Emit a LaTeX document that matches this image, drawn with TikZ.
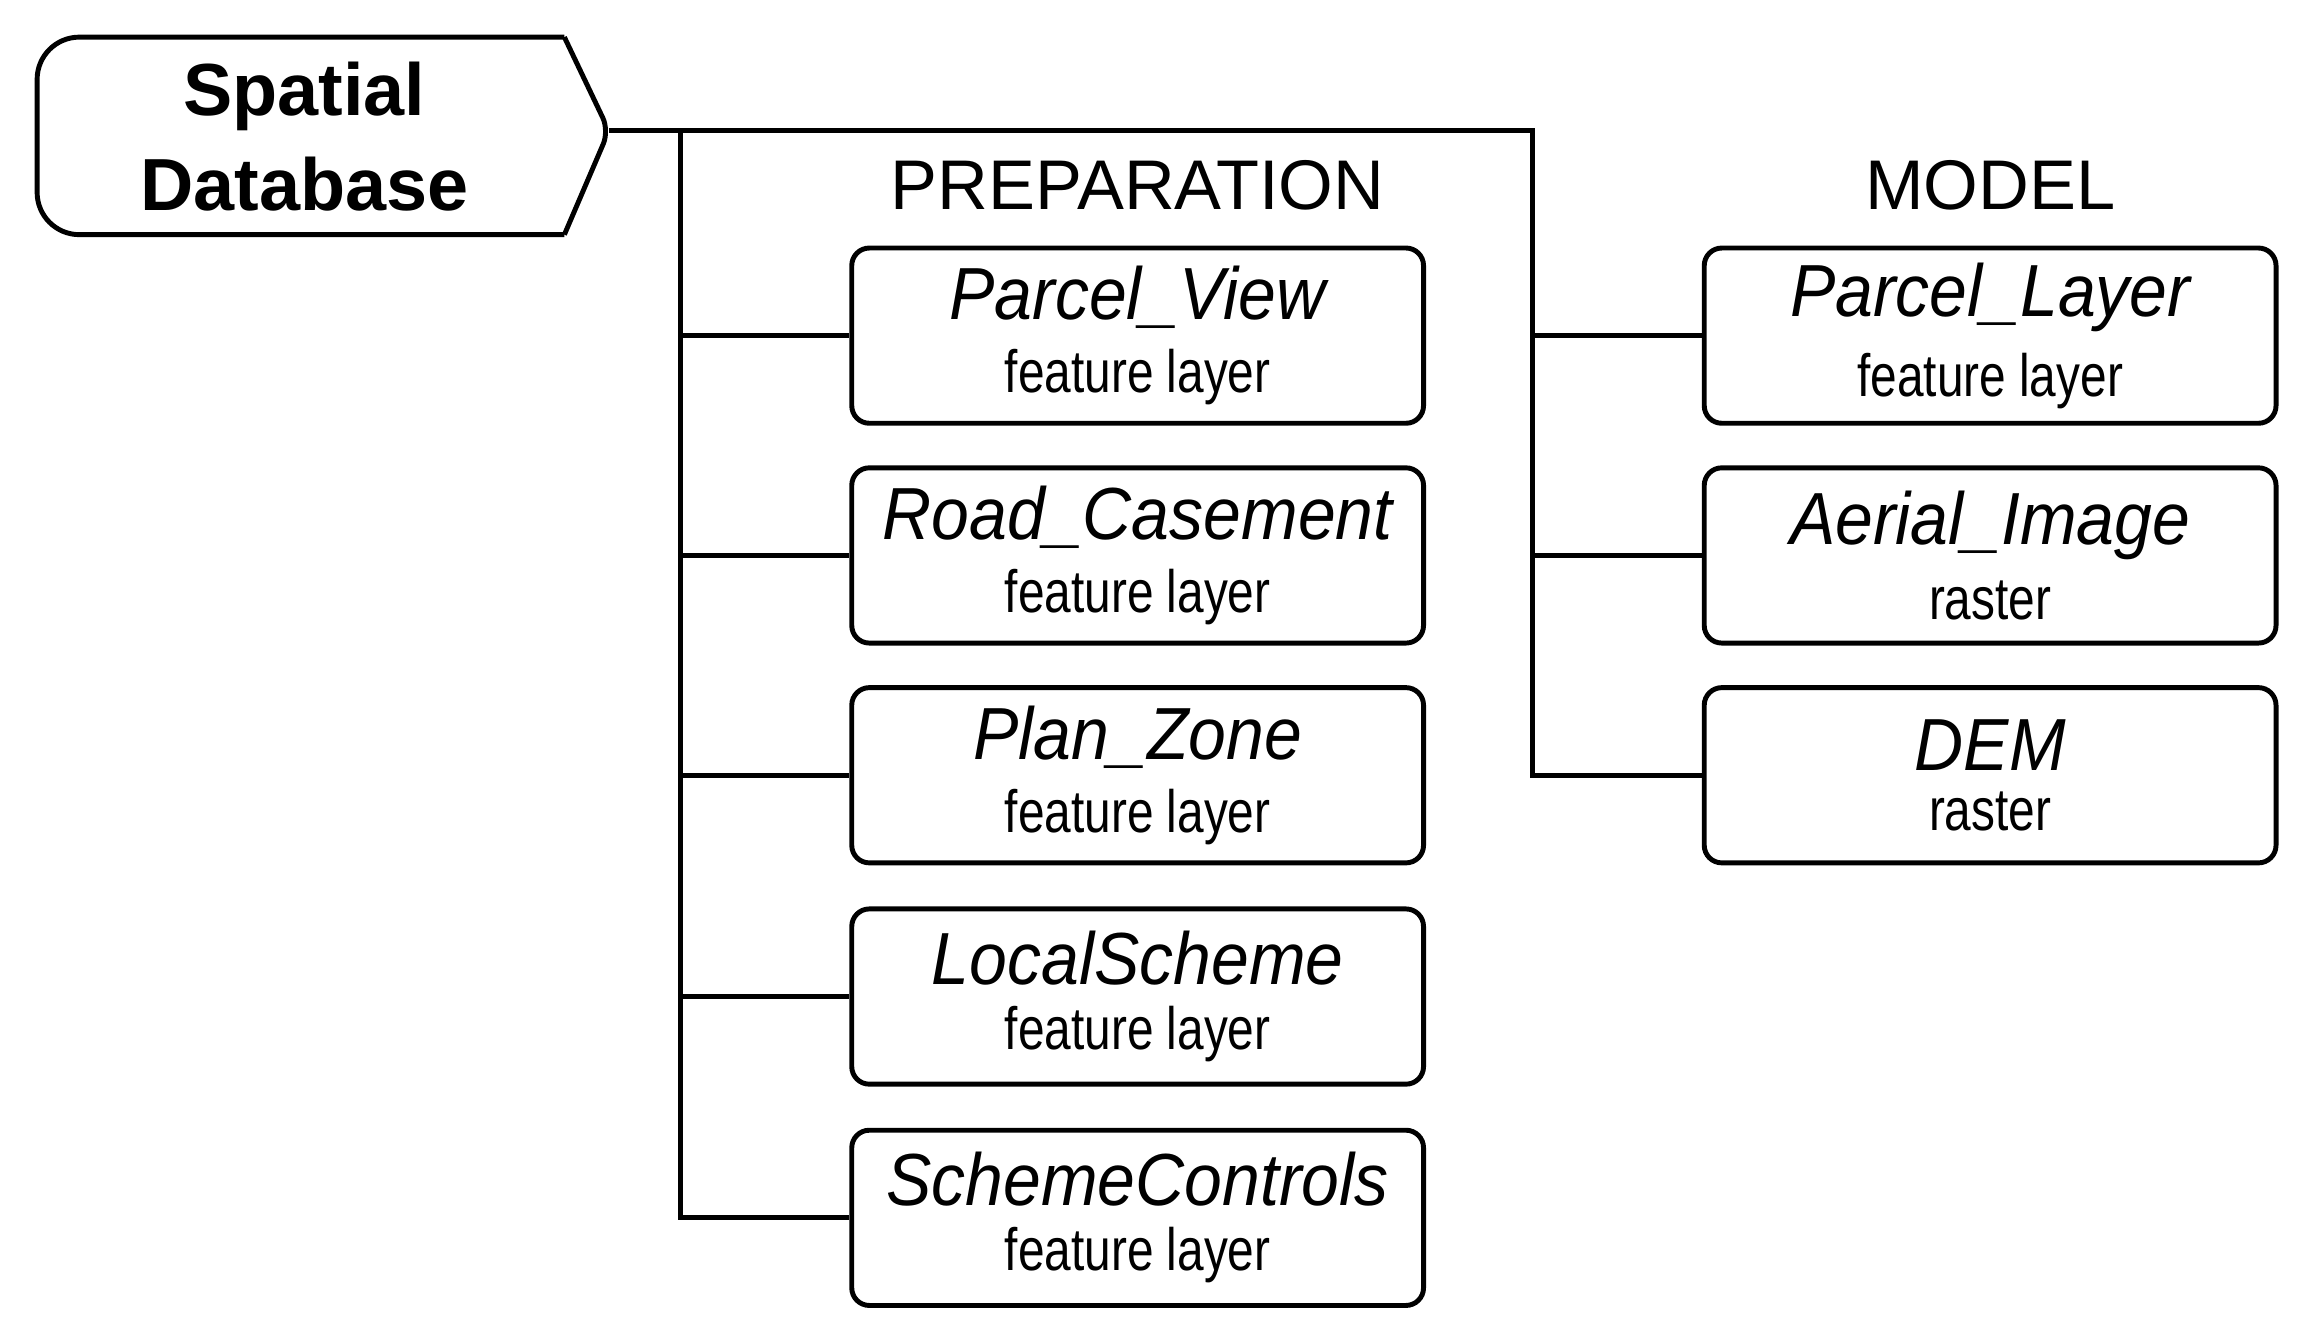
\documentclass[tikz,border=0pt]{standalone}
\usepackage{fontspec}
\setmainfont{Liberation Sans}
\usetikzlibrary{positioning}

\tikzset{
  layer/.style={draw, line width=1.4pt, rounded corners=5pt, minimum width=385*0.01485cm,
    minimum height=118*0.01485cm, align=center, inner sep=0pt},
  branch/.style={line width=1.4pt},
  head/.style={font=\fontsize{20}{24}\selectfont}
}
\newcommand{\lyr}[2]{{\fontsize{21}{24}\selectfont\itshape\scalebox{0.92}[1]{#1}}\\[5pt]{\fontsize{17}{18}\selectfont\scalebox{0.8}[1]{#2}}}

\begin{document}
\begin{tikzpicture}[x=0.01485cm, y=-0.01485cm]
\useasboundingbox (0,0) rectangle (1550,900);

% root
\draw[line width=1.4pt, rounded corners=12pt] (380,25) -- (25,25) -- (25,158) -- (380,158);
\draw[line width=1.4pt, rounded corners=4pt] (380,158) -- (410,88) -- (380,25);
\coordinate (dbtip) at (410,88);
\node[align=center, font=\fontsize{21}{27}\selectfont\bfseries] (db) at (205,92) {Spatial\\Database};

\node[head] (prep) at (766,125) {PREPARATION};
\node[head] (model) at (1340,125) {MODEL};

% preparation
\node[layer] (pview) at (766,226) {\lyr{Parcel\_View}{feature layer}};
\node[layer] (road) at (766,374) {\lyr{Road\_Casement}{feature layer}};
\node[layer] (zone) at (766,522) {\lyr{Plan\_Zone}{feature layer}};
\node[layer] (local) at (766,671) {\lyr{LocalScheme}{feature layer}};
\node[layer] (ctrl) at (766,820) {\lyr{SchemeControls}{feature layer}};

% model
\node[layer] (player) at (1340,226) {\lyr{Parcel\_Layer}{feature layer}};
\node[layer] (aerial) at (1340,374) {\lyr{Aerial\_Image}{raster}};
\node[layer] (dem) at (1340,522) {\lyr{DEM}{raster}};

% spines
\coordinate (ptop) at (458,88);
\coordinate (mtop) at (1032,88);
\draw[branch] (dbtip) -- (mtop) -- (1032,522) -- (dem.west);
\draw[branch] (ptop) -- (458,820) -- (ctrl.west);
\foreach \n/\y in {pview/226, road/374, zone/522, local/671}
  \draw[branch] (458,\y) -- (\n.west);
\foreach \n/\y in {player/226, aerial/374}
  \draw[branch] (1032,\y) -- (\n.west);

\end{tikzpicture}
\end{document}
